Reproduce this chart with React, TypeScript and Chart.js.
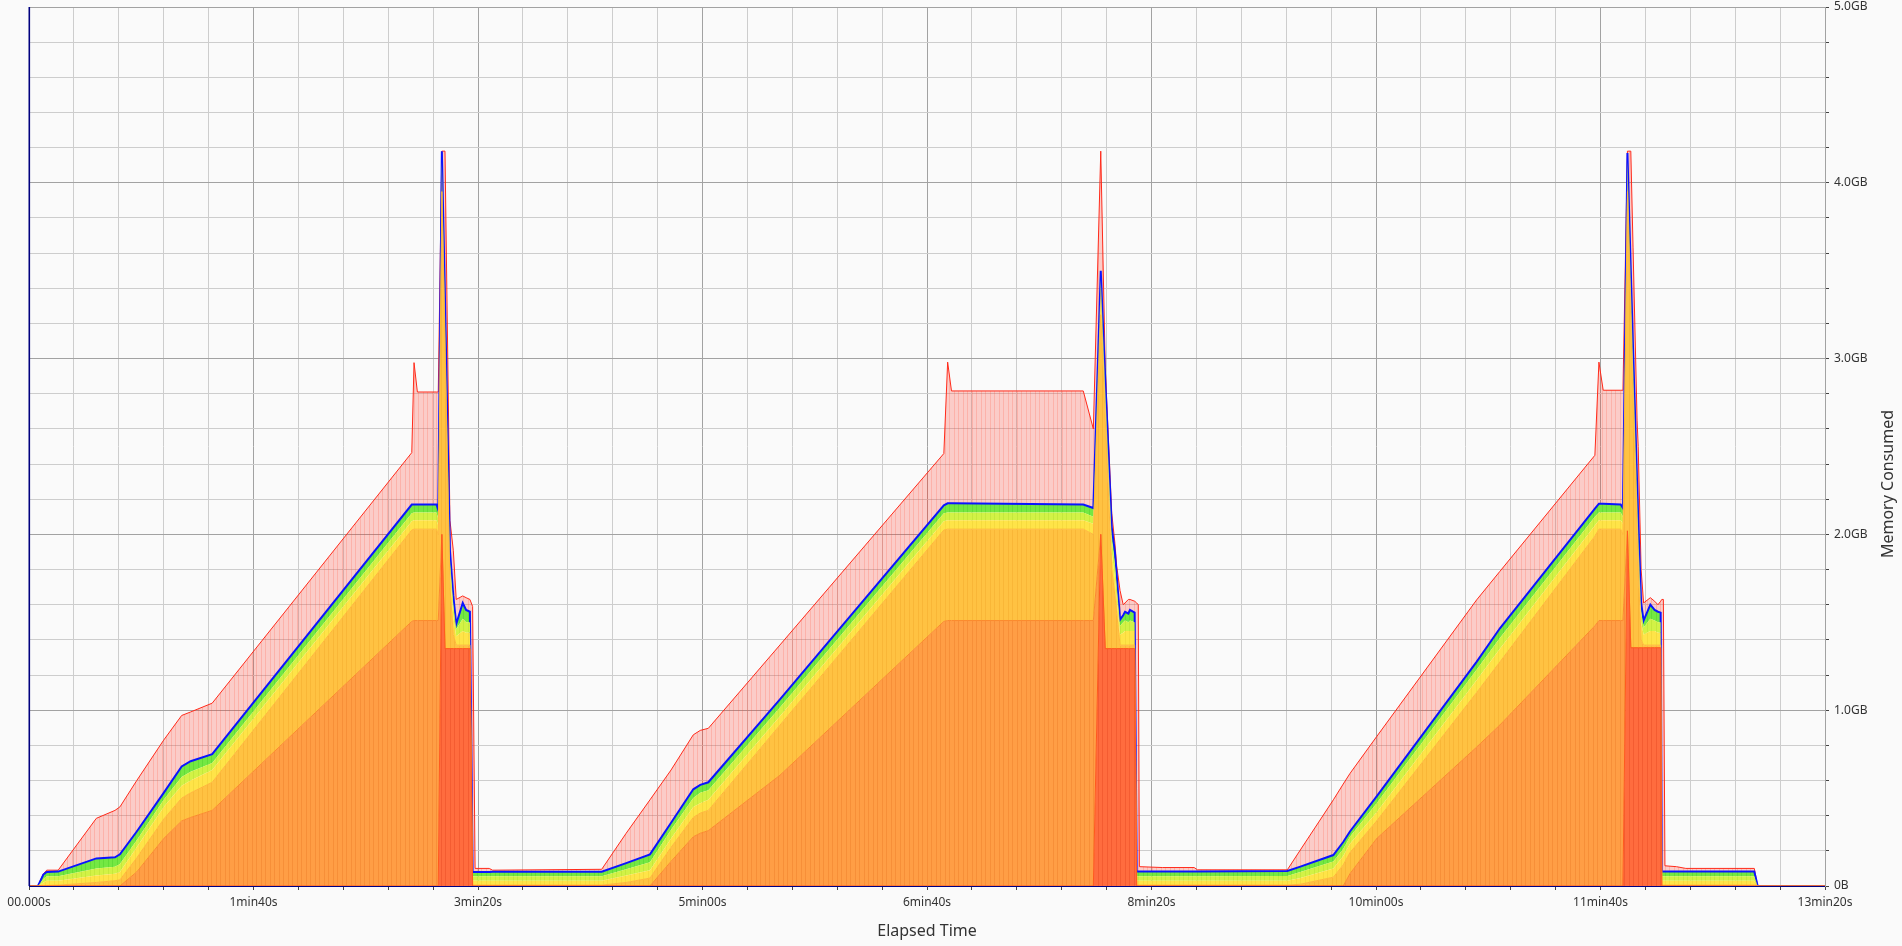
import React, { useEffect, useRef } from 'react';
import { Chart, registerables } from 'chart.js';

Chart.register(...registerables);

// Elapsed time of each snapshot, in seconds
const timeSec = [
  0, 4, 6.4, 7.9, 13, 30, 38.3, 40.5, 48, 60,
  68, 72, 81.6, 170.5, 171.5, 173, 181.5, 182.3, 183.9, 185.3,
  187.5, 189, 190.3, 193.2, 194.7, 196.4, 197.6, 198.7, 205, 206.5,
  255.1,
  266, 276.6, 286, 295.9, 299, 302.6, 334.5, 407.5, 409.2, 410.9,
  469.6, 474.1, 477.4, 479.4, 482.3, 483.7, 484.5, 486, 487.4, 488.2,
  489.7, 490.4, 492.5, 493.4, 494.1, 494.6, 505, 519, 520.5, 560.5,
  566.3, 581, 585.4, 588.4, 600.3, 644.8, 655.2, 697.5, 699.3, 701.2,
  709, 710, 712, 713.5, 714.5, 716.3, 716.8, 718.1, 719.2, 722.2,
  724.1, 725.6, 726.8, 727.3, 728, 728.7, 733.8, 738, 768.5, 770, 800,
];

// Cumulative tops of the stacked layers, in GB
const darkTop = [
  0, 0, 0, 0, 0, 0, 0, 0, 0, 0,
  0, 0, 0, 0, 0, 0, 0, 0, 2.0, 1.35,
  1.35, 1.35, 1.35, 1.35, 1.35, 1.35, 0, 0, 0, 0,
  0,
  0, 0, 0, 0, 0, 0, 0, 0, 0, 0,
  0, 0, 2.0, 1.35, 1.35, 1.35, 1.35, 1.35, 1.35, 1.35,
  1.35, 1.35, 1.35, 0, 0, 0, 0, 0, 0, 0,
  0, 0, 0, 0, 0, 0, 0, 0, 0, 0,
  0, 0, 2.02, 1.355, 1.355, 1.355, 1.355, 1.355, 1.355, 1.355,
  1.355, 1.355, 1.355, 0, 0, 0, 0, 0, 0, 0, 0,
];

const orangeTop = [
  0, 0, 0, 0, 0, 0, 0, 0, 0.08, 0.27,
  0.37, 0.39, 0.43, 1.505, 1.51, 1.51, 1.51, 1.51, 2.0, 1.35,
  1.35, 1.35, 1.35, 1.35, 1.35, 1.35, 0, 0, 0, 0,
  0,
  0, 0, 0.14, 0.28, 0.3, 0.315, 0.63, 1.505, 1.51, 1.51,
  1.51, 1.51, 2.0, 1.35, 1.35, 1.35, 1.35, 1.35, 1.35, 1.35,
  1.35, 1.35, 1.35, 0, 0, 0, 0, 0, 0, 0,
  0, 0, 0, 0.07, 0.27, 0.79, 0.916, 1.48, 1.51, 1.51,
  1.51, 1.51, 2.02, 1.355, 1.355, 1.355, 1.355, 1.355, 1.355, 1.355,
  1.355, 1.355, 1.355, 0, 0, 0, 0, 0, 0, 0, 0,
];

const lightOrangeTop = [
  0, 0, 0, 0.003, 0.005, 0.02, 0.03, 0.035, 0.16, 0.38,
  0.5, 0.53, 0.59, 2.025, 2.03, 2.03, 2.03, 2.0, 3.95, 3.05,
  1.7, 1.43, 1.37, 1.37, 1.37, 1.37, 0.005, 0.005, 0.005, 0.005,
  0.005,
  0.02, 0.045, 0.22, 0.39, 0.415, 0.43, 0.915, 2.025, 2.03, 2.03,
  2.03, 2.0, 3.25, 2.65, 1.8, 1.65, 1.55, 1.37, 1.37, 1.37,
  1.37, 1.37, 1.37, 0.005, 0.005, 0.005, 0.005, 0.005, 0.005, 0.005,
  0.01, 0.05, 0.12, 0.19, 0.37, 1.1, 1.275, 1.99, 2.03, 2.03,
  2.03, 2.0, 3.95, 3.2, 2.75, 2.0, 1.8, 1.4, 1.37, 1.37,
  1.37, 1.37, 1.37, 0.005, 0.005, 0.005, 0.005, 0.005, 0.005, 0, 0,
];

const yellowTop = [
  0, 0, 0.02, 0.03, 0.03, 0.06, 0.07, 0.08, 0.22, 0.45,
  0.57, 0.6, 0.66, 2.075, 2.08, 2.08, 2.08, 2.05, 4.05, 3.2,
  1.8, 1.53, 1.42, 1.45, 1.44, 1.44, 0.03, 0.03, 0.03, 0.03,
  0.03,
  0.06, 0.09, 0.27, 0.45, 0.47, 0.49, 0.965, 2.075, 2.08, 2.08,
  2.08, 2.06, 3.38, 2.75, 1.9, 1.75, 1.64, 1.43, 1.44, 1.45,
  1.45, 1.45, 1.45, 0.03, 0.03, 0.03, 0.03, 0.03, 0.03, 0.03,
  0.045, 0.1, 0.17, 0.24, 0.42, 1.17, 1.35, 2.05, 2.08, 2.08,
  2.08, 2.06, 4.05, 3.33, 2.88, 2.12, 1.92, 1.5, 1.43, 1.45,
  1.45, 1.44, 1.44, 0.03, 0.03, 0.03, 0.03, 0.03, 0.03, 0, 0,
];

const limeTop = [
  0, 0, 0.04, 0.055, 0.055, 0.1, 0.11, 0.125, 0.26, 0.49,
  0.62, 0.65, 0.7, 2.12, 2.125, 2.125, 2.125, 2.09, 4.12, 3.26,
  1.86, 1.6, 1.46, 1.52, 1.5, 1.5, 0.055, 0.055, 0.055, 0.055,
  0.055,
  0.095, 0.135, 0.32, 0.5, 0.53, 0.545, 1.015, 2.12, 2.125, 2.125,
  2.125, 2.1, 3.45, 2.82, 1.97, 1.83, 1.71, 1.48, 1.5, 1.51,
  1.5, 1.51, 1.5, 0.055, 0.055, 0.055, 0.055, 0.055, 0.055, 0.057,
  0.08, 0.14, 0.21, 0.28, 0.47, 1.23, 1.41, 2.1, 2.125, 2.125,
  2.125, 2.1, 4.12, 3.42, 2.97, 2.22, 2.01, 1.56, 1.47, 1.52,
  1.51, 1.5, 1.5, 0.055, 0.055, 0.055, 0.055, 0.055, 0.055, 0, 0,
];

// Total heap (blue line)
const totalTop = [
  0, 0, 0.065, 0.08, 0.082, 0.157, 0.163, 0.18, 0.31, 0.53,
  0.68, 0.71, 0.75, 2.17, 2.17, 2.17, 2.17, 2.14, 4.18, 3.34,
  1.91, 1.65, 1.49, 1.61, 1.57, 1.56, 0.08, 0.08, 0.08, 0.081,
  0.081,
  0.13, 0.18, 0.36, 0.55, 0.575, 0.59, 1.062, 2.165, 2.177, 2.177,
  2.17, 2.15, 3.5, 2.88, 2.04, 1.9, 1.77, 1.515, 1.54, 1.56,
  1.55, 1.57, 1.555, 0.082, 0.082, 0.082, 0.082, 0.082, 0.082, 0.085,
  0.11, 0.176, 0.25, 0.31, 0.51, 1.275, 1.466, 2.146, 2.175, 2.175,
  2.17, 2.15, 4.17, 3.5, 3.06, 2.3, 2.09, 1.61, 1.51, 1.6,
  1.57, 1.56, 1.555, 0.082, 0.082, 0.082, 0.082, 0.082, 0.082, 0, 0,
];

// Peak / extra heap (red line)
const peakTop = [
  0, 0, 0.07, 0.09, 0.09, 0.385, 0.43, 0.45, 0.6, 0.83,
  0.97, 0.99, 1.04, 2.465, 2.977, 2.81, 2.81, 2.81, 4.18, 4.18,
  2.08, 1.91, 1.63, 1.65, 1.64, 1.63, 1.59, 0.1, 0.1, 0.09,
  0.095,
  0.3, 0.49, 0.66, 0.86, 0.885, 0.897, 1.371, 2.46, 2.98, 2.816,
  2.816, 2.6, 4.18, 2.95, 2.12, 1.95, 1.82, 1.68, 1.6, 1.61,
  1.63, 1.63, 1.62, 1.61, 1.6, 0.11, 0.105, 0.105, 0.092, 0.092,
  0.205, 0.49, 0.58, 0.64, 0.85, 1.627, 1.79, 2.45, 2.98, 2.82,
  2.82, 2.82, 4.18, 4.18, 3.63, 2.65, 2.5, 1.8, 1.61, 1.64,
  1.62, 1.6, 1.62, 1.63, 1.63, 0.115, 0.11, 0.1, 0.1, 0, 0,
];

const xTickLabels = ['00.000s', '1min40s', '3min20s', '5min00s', '6min40s', '8min20s', '10min00s', '11min40s', '13min20s'];
const yTickLabels = ['0B', '1.0GB', '2.0GB', '3.0GB', '4.0GB', '5.0GB'];
const xTitle = 'Elapsed Time';
const yTitle = 'Memory Consumed';

export default function App() {
  const ref = useRef<HTMLCanvasElement>(null);

  useEffect(() => {
    const canvas = ref.current!;
    const ctx = canvas.getContext('2d')!;

    const stripes = (base: string, line: string) => {
      const c = document.createElement('canvas');
      c.width = 9;
      c.height = 2;
      const g = c.getContext('2d')!;
      g.fillStyle = base;
      g.fillRect(0, 0, 9, 2);
      g.clearRect(0, 0, 1, 2);
      g.clearRect(4, 0, 1, 2);
      g.fillStyle = line;
      g.fillRect(0, 0, 1, 2);
      g.fillRect(4, 0, 1, 2);
      return ctx.createPattern(c, 'repeat')!;
    };

    const pts = (arr: number[]) => arr.map((v, i) => ({ x: timeSec[i], y: v }));

    const frame = {
      id: 'frame',
      afterDraw(chart: any) {
        const a = chart.chartArea;
        const c = chart.ctx;
        c.save();
        c.strokeStyle = '#00007f';
        c.lineWidth = 1.6;
        c.beginPath();
        c.moveTo(a.left + 0.3, a.top);
        c.lineTo(a.left + 0.3, a.bottom);
        c.stroke();
        c.fillStyle = '#333333';
        c.font = '16px "Noto Sans"';
        c.textAlign = 'center';
        c.textBaseline = 'middle';
        c.fillText(xTitle, (a.left + a.right) / 2, 931);
        c.translate(1888, 484);
        c.rotate(-Math.PI / 2);
        c.fillText(yTitle, 0, 0);
        c.restore();
      },
    };

    const majorMinor = (isMajor: boolean) => (isMajor ? '#a2a2a2' : '#cdcdcd');

    const chart = new Chart(ctx, {
      type: 'line',
      data: {
        datasets: [
          {
            data: pts(darkTop),
            fill: 'origin',
            backgroundColor: stripes('#ff6c3e', '#f45c31'),
            borderColor: '#ff5a1e',
            borderWidth: 1,
          },
          {
            data: pts(orangeTop),
            fill: '-1',
            backgroundColor: stripes('#ff9e45', '#f78f38'),
            borderColor: '#fb8a2e',
            borderWidth: 1,
          },
          {
            data: pts(lightOrangeTop),
            fill: '-1',
            backgroundColor: stripes('#ffc242', '#f9b637'),
            borderColor: '#ffb83a',
            borderWidth: 1,
          },
          {
            data: pts(yellowTop),
            fill: '-1',
            backgroundColor: stripes('#ffe448', '#f6da3e'),
            borderWidth: 0,
          },
          {
            data: pts(limeTop),
            fill: '-1',
            backgroundColor: stripes('#d2f246', '#c4e83c'),
            borderWidth: 0,
          },
          {
            data: pts(totalTop),
            fill: '-1',
            backgroundColor: stripes('#74e843', '#62dc38'),
            borderColor: '#0a14ff',
            borderWidth: 2,
          },
          {
            data: pts(peakTop),
            fill: '-1',
            backgroundColor: stripes('rgba(255,60,40,0.24)', 'rgba(255,60,40,0.38)'),
            borderColor: '#ff2a1a',
            borderWidth: 1,
          },
        ],
      },
      options: {
        responsive: false,
        maintainAspectRatio: false,
        animation: false,
        devicePixelRatio: 1,
        events: [],
        layout: { padding: { left: 29, top: 7, right: 0, bottom: 0 } },
        elements: { point: { radius: 0 }, line: { tension: 0 } },
        plugins: {
          legend: { display: false },
          tooltip: { enabled: false },
          filler: { propagate: false },
        },
        scales: {
          x: {
            type: 'linear',
            position: 'bottom',
            min: 0,
            max: 800,
            afterFit: (s: any) => {
              s.height = 60;
              s.paddingLeft = 0;
              s.paddingRight = 0;
            },
            ticks: {
              stepSize: 20,
              maxTicksLimit: 100,
              autoSkip: false,
              maxRotation: 0,
              padding: 5,
              color: '#333333',
              font: { family: 'Noto Sans', size: 12 },
              callback: (v: any) => {
                const n = Number(v);
                return n % 100 === 0 ? xTickLabels[n / 100] : '';
              },
            },
            grid: {
              color: (c: any) => majorMinor(c.tick && c.tick.value % 100 === 0),
              tickColor: '#444444',
              tickLength: 4,
            },
            border: { color: '#00007f', width: 1 },
          },
          y: {
            type: 'linear',
            position: 'right',
            min: 0,
            max: 5,
            afterFit: (s: any) => {
              s.width = 77;
              s.paddingTop = 0;
              s.paddingBottom = 0;
            },
            ticks: {
              stepSize: 0.2,
              maxTicksLimit: 100,
              autoSkip: false,
              padding: 5,
              color: '#333333',
              font: { family: 'Noto Sans', size: 12 },
              callback: (v: any) => {
                const n = Number(v);
                const r = Math.round(n);
                return Math.abs(n - r) < 1e-6 ? yTickLabels[r] : '';
              },
            },
            grid: {
              color: (c: any) => {
                const n = c.tick ? c.tick.value : 0;
                return majorMinor(Math.abs(n - Math.round(n)) < 1e-6);
              },
              tickColor: '#444444',
              tickLength: 4,
            },
            border: { color: '#a2a2a2', width: 1 },
          },
        },
      },
      plugins: [frame],
    } as any);

    return () => chart.destroy();
  }, []);

  return (
    <div style={{ position: 'fixed', left: 0, top: 0, width: 1902, height: 946, background: '#fafafa' }}>
      <canvas ref={ref} width={1902} height={946} style={{ display: 'block', width: 1902, height: 946 }} />
    </div>
  );
}
